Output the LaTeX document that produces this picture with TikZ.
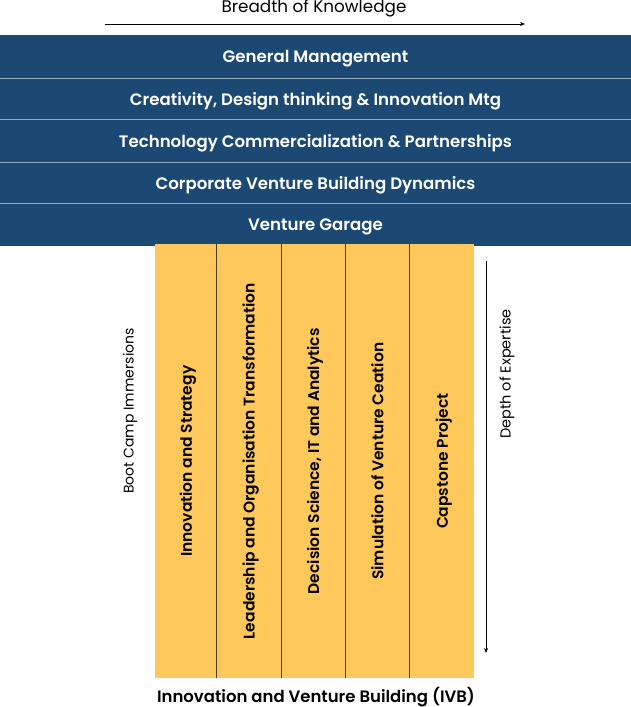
\documentclass[tikz,border=0pt]{standalone}
\usepackage{fontspec}
\setmainfont{Poppins}[BoldFont={Poppins SemiBold}]
\usetikzlibrary{arrows.meta,positioning}
\definecolor{ivbblue}{RGB}{27,73,116}
\definecolor{ivbyellow}{RGB}{254,200,90}
\definecolor{ivbline}{RGB}{150,172,195}
\definecolor{ivbdiv}{RGB}{70,62,45}

\begin{document}
\begin{tikzpicture}[x=1pt,y=-1pt,
        bar/.style = {fill=ivbblue, text=white, font=\bfseries\fontsize{16.6}{18}\selectfont, minimum width=631pt, inner sep=0pt, text depth=0pt, anchor=north},
        course/.style = {fill=ivbyellow, minimum height=434pt, inner sep=0pt, anchor=north west},
        course text/.style = {rotate=90, font=\bfseries\fontsize{15.5}{17}\selectfont, text depth=0pt},
        axis text/.style = {font=\fontsize{14}{16}\selectfont},
        every edge/.style = {draw, line width=0.8pt, -{Stealth[length=5pt,width=4pt]}}
        ]
    \useasboundingbox (0,0) rectangle (631,707);

    % breadth
    \coordinate (b0) at (105,24);
    \coordinate (b1) at (525,24);
    \draw (b0) edge (b1);
    \node[axis text, font=\fontsize{16.8}{18}\selectfont, anchor=base, inner sep=0pt] (breadth) at (314,12.5) {Breadth of Knowledge}; %label

    % blue bars
    \node[bar, minimum height=43pt] (gm) at (315.5,35) {General Management};
    \node[bar, minimum height=41pt, below=0pt of gm] (cdi) {Creativity, Design thinking \& Innovation Mtg};
    \node[bar, minimum height=42pt, below=0pt of cdi] (tcp) {Technology Commercialization \& Partnerships};
    \node[bar, minimum height=41pt, below=0pt of tcp] (cvb) {Corporate Venture Building Dynamics};
    \node[bar, minimum height=42pt, below=0pt of cvb] (vg) {Venture Garage};
    \foreach \b in {gm,cdi,tcp,cvb}
        \draw[ivbline, line width=0.7pt] (\b.south west) -- (\b.south east);

    % yellow columns
    \node[course, minimum width=61pt] (c1) at (155,244) {};
    \node[course, minimum width=64pt, right=0pt of c1] (c2) {};
    \node[course, minimum width=64pt, right=0pt of c2] (c3) {};
    \node[course, minimum width=64pt, right=0pt of c3] (c4) {};
    \node[course, minimum width=64pt, right=0pt of c4] (c5) {};
    \foreach \c in {c1,c2,c3,c4}
        \draw[ivbdiv, line width=0.6pt] (\c.north east) -- (\c.south east);

    \node[course text] (t1) at (c1) {Innovation and Strategy};
    \node[course text] (t2) at (c2) {Leadership and Organisation Transformation};
    \node[course text] (t3) at (c3) {Decision Science, IT and Analytics};
    \node[course text] (t4) at (c4) {Simulation of Venture Ceation};
    \node[course text] (t5) at (c5) {Capstone Project};

    % depth
    \coordinate (d0) at (486,261);
    \coordinate (d1) at (486,653);
    \draw (d0) edge (d1);
    \node[axis text, font=\fontsize{14.5}{16}\selectfont, rotate=90] (depth) at (507,374) {Depth of Expertise}; %label
    \node[axis text, rotate=90] (boot) at (130,411) {Boot Camp Immersions}; %label

    \node[font=\bfseries\fontsize{16.5}{18}\selectfont, anchor=base, inner sep=0pt] (ivb) at (316,702.5) {Innovation and Venture Building (IVB)};
\end{tikzpicture}
\end{document}
